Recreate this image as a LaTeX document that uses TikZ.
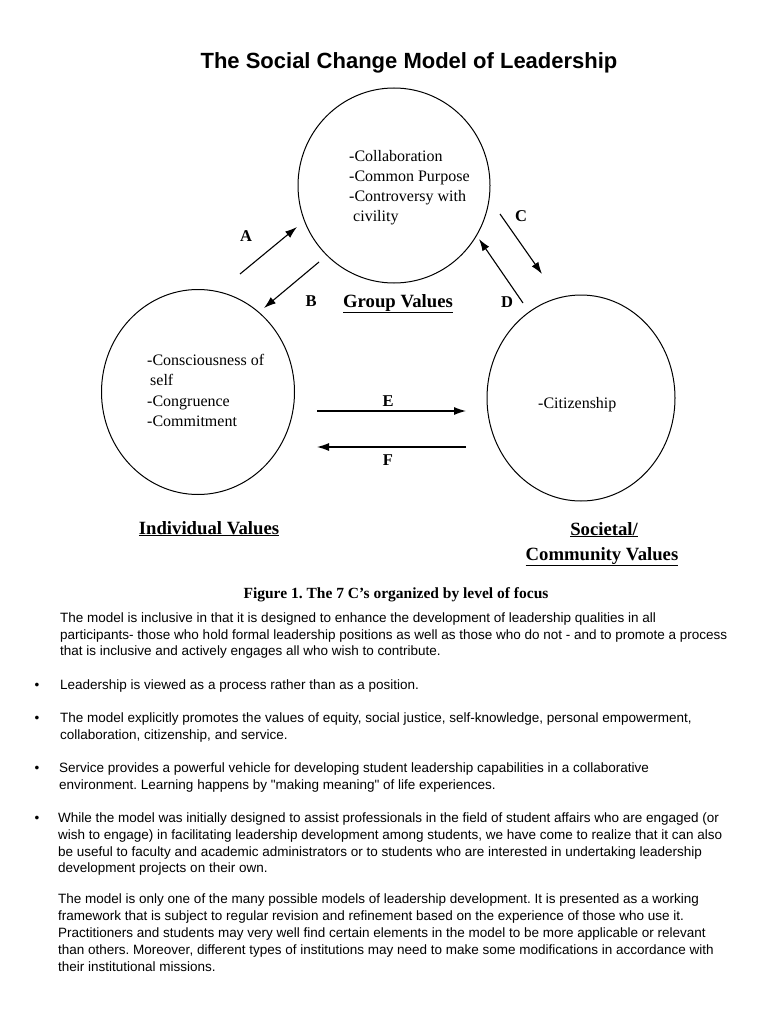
\documentclass[tikz,border=0pt]{standalone}
\usepackage{fontspec}
\setmainfont{Liberation Serif}
\newfontfamily\arialfont{Liberation Sans}
\usetikzlibrary{arrows.meta,shapes.geometric}
\frenchspacing
\begin{document}
\begin{tikzpicture}[x=1pt,y=-1pt,
  ring/.style={draw, ellipse, line width=1pt, inner sep=0pt},
  conn/.style={line width=1.1pt, -{Latex[length=12pt,width=8pt]}},
  lbl/.style={font=\fontsize{16.5}{19}\selectfont\bfseries, anchor=base, inner sep=0pt},
  ctext/.style={font=\fontsize{16}{20}\selectfont, anchor=base west, inner sep=0pt},
  heading/.style={font=\fontsize{18.7}{22}\selectfont\bfseries, anchor=base, inner sep=0pt},
  body/.style={font=\arialfont\fontsize{13.5}{16.7}\selectfont, anchor=base west, inner sep=0pt},
  dot/.style={font=\arialfont\fontsize{13.5}{16.7}\selectfont, anchor=base, inner sep=0pt}]
\useasboundingbox[fill=white] (0,0) rectangle (768,1024);

% title
\node[font=\arialfont\bfseries\fontsize{22}{26}\selectfont, anchor=base, inner sep=0pt] (title) at (409,69) {The Social Change Model of Leadership};

% circles
\node[ring, minimum width=192pt, minimum height=195pt] (group) at (394,185.5) {};
\node[ring, minimum width=193pt, minimum height=205pt] (indiv) at (198,392) {};
\node[ring, minimum width=188pt, minimum height=206pt] (soc) at (581,398) {};

% circle texts
\node[ctext] (g1) at (349,162) {-Collaboration};
\node[ctext] (g2) at (349,182) {-Common Purpose};
\node[ctext] (g3) at (349,202) {-Controversy with};
\node[ctext] (g4) at (353,222) {civility};

\node[ctext] (i1) at (147,365) {-Consciousness of};
\node[ctext] (i2) at (150,385.5) {self};
\node[ctext] (i3) at (147,406) {-Congruence};
\node[ctext] (i4) at (147,426) {-Commitment};

\node[ctext] (s1) at (538,408) {-Citizenship};

% arrows
\coordinate (a1) at (240,274); \coordinate (a2) at (297,227);
\coordinate (b1) at (319,262); \coordinate (b2) at (264,308);
\coordinate (c1) at (500,214); \coordinate (c2) at (542,274);
\coordinate (d1) at (523,303); \coordinate (d2) at (479,239);
\coordinate (e1) at (317,411); \coordinate (e2) at (466,411);
\coordinate (f1) at (466,447); \coordinate (f2) at (317,447);
\draw[conn] (a1) -- (a2);
\draw[conn] (b1) -- (b2);
\draw[conn] (c1) -- (c2);
\draw[conn] (d1) -- (d2);
\draw[conn] (e1) -- (e2);
\draw[conn] (f1) -- (f2);

\node[lbl] (la) at (246,241) {A};
\node[lbl] (lb) at (311,306) {B};
\node[lbl] (lc) at (521,222) {C};
\node[lbl] (ld) at (507,307) {D};
\node[lbl] (le) at (388,406) {E};
\node[lbl] (lf) at (388,465) {F};

% headings
\node[heading] (hg) at (398,307) {\underline{Group Values}};
\node[heading] (hi) at (209,534) {\underline{Individual Values}};
\node[heading] (hs1) at (604,535) {\underline{Societal/}};
\node[heading] (hs2) at (602,560) {\underline{Community Values}};

% caption
\node[font=\bfseries\fontsize{15.5}{18}\selectfont, anchor=base, inner sep=0pt] (cap) at (396,598) {Figure 1. The 7 C’s organized by level of focus};

% paragraph 1
\node[body] (p1a) at (60,622.5) {The model is inclusive in that it is designed to enhance the development of leadership qualities in all};
\node[body] (p1b) at (60,639) {participants- those who hold formal leadership positions as well as those who do not - and to promote a process};
\node[body] (p1c) at (60,655.5) {that is inclusive and actively engages all who wish to contribute.};

% bullets
\node[dot] (d1) at (37,689.5) {•};
\node[body] (b1a) at (60,689.5) {Leadership is viewed as a process rather than as a position.};

\node[dot] (d2) at (37,722.5) {•};
\node[body] (b2a) at (60,722.5) {The model explicitly promotes the values of equity, social justice, self-knowledge, personal empowerment,};
\node[body] (b2b) at (60,739) {collaboration, citizenship, and service.};

\node[dot] (d3) at (37,772.5) {•};
\node[body] (b3a) at (59,772.5) {Service provides a powerful vehicle for developing student leadership capabilities in a collaborative};
\node[body] (b3b) at (59,789) {environment. Learning happens by "making meaning" of life experiences.};

\node[dot] (d4) at (37,822.5) {•};
\node[body] (b4a) at (58,822.5) {While the model was initially designed to assist professionals in the field of student affairs who are engaged (or};
\node[body] (b4b) at (58,839.5) {wish to engage) in facilitating leadership development among students, we have come to realize that it can also};
\node[body] (b4c) at (58,856) {be useful to faculty and academic administrators or to students who are interested in undertaking leadership};
\node[body] (b4d) at (58,872.5) {development projects on their own.};

% final paragraph
\node[body] (p2a) at (58,903.5) {The model is only one of the many possible models of leadership development. It is presented as a working};
\node[body] (p2b) at (58,920.5) {framework that is subject to regular revision and refinement based on the experience of those who use it.};
\node[body] (p2c) at (58,937.5) {Practitioners and students may very well find certain elements in the model to be more applicable or relevant};
\node[body] (p2d) at (58,954.5) {than others. Moreover, different types of institutions may need to make some modifications in accordance with};
\node[body] (p2e) at (58,971.5) {their institutional missions.};
\end{tikzpicture}
\end{document}
